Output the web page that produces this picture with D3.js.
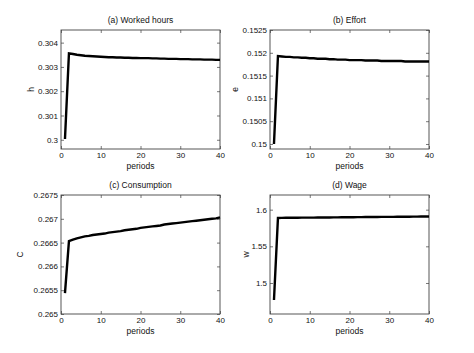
<!DOCTYPE html>
<html>
<head>
<meta charset="utf-8">
<script src="https://cdn.jsdelivr.net/npm/d3@7"></script>
<style>
  body { margin: 0; background: #fff; }
  svg { display: block; }
  text { font-family: "Liberation Sans", Arial, sans-serif; fill: #111; }
</style>
</head>
<body>
<div id="chart"></div>
<script>
// periods 1..40
const periods = d3.range(1, 41);

const hoursValues = [
    0.30003, 0.30356, 0.30353, 0.30350, 0.30348, 0.30346, 0.30345, 0.30344, 0.30343, 0.30342,
    0.30341, 0.30340, 0.30340, 0.30339, 0.30339, 0.30338, 0.30338, 0.30337, 0.30337, 0.30336,
    0.30336, 0.30336, 0.30335, 0.30335, 0.30334, 0.30334, 0.30333, 0.30333, 0.30333, 0.30332,
    0.30332, 0.30332, 0.30331, 0.30331, 0.30331, 0.30330, 0.30330, 0.30330, 0.30329, 0.30329
];
const effortValues = [
    0.15000, 0.15193, 0.15192, 0.15191, 0.15191, 0.15190, 0.15190, 0.15189, 0.15189, 0.15188,
    0.15188, 0.15187, 0.15187, 0.15187, 0.15186, 0.15186, 0.15185, 0.15185, 0.15185, 0.15184,
    0.15184, 0.15184, 0.15184, 0.15183, 0.15183, 0.15183, 0.15183, 0.15182, 0.15182, 0.15182,
    0.15182, 0.15182, 0.15182, 0.15181, 0.15181, 0.15181, 0.15181, 0.15181, 0.15181, 0.15181
];
const consumptionValues = [
    0.26544, 0.26653, 0.26656, 0.26659, 0.26661, 0.26663, 0.26664, 0.26666, 0.26667, 0.26668,
    0.26669, 0.26671, 0.26672, 0.26673, 0.26674, 0.26676, 0.26677, 0.26678, 0.26679, 0.26681,
    0.26682, 0.26683, 0.26684, 0.26685, 0.26686, 0.26688, 0.26689, 0.26690, 0.26691, 0.26692,
    0.26693, 0.26694, 0.26695, 0.26696, 0.26697, 0.26698, 0.26699, 0.26700, 0.26701, 0.26703
];
const wageValues = [
    1.4768, 1.5887, 1.5888, 1.5889, 1.5889, 1.5890, 1.5890, 1.5891, 1.5891, 1.5892,
    1.5892, 1.5893, 1.5893, 1.5894, 1.5894, 1.5895, 1.5895, 1.5896, 1.5896, 1.5897,
    1.5897, 1.5898, 1.5898, 1.5899, 1.5899, 1.5900, 1.5900, 1.5901, 1.5901, 1.5902,
    1.5902, 1.5903, 1.5903, 1.5904, 1.5904, 1.5905, 1.5905, 1.5906, 1.5906, 1.5907
];

const xTicks = [0, 10, 20, 30, 40];
const hoursTicks = [0.3, 0.301, 0.302, 0.303, 0.304];
const effortTicks = [0.15, 0.1505, 0.151, 0.1515, 0.152, 0.1525];
const consumptionTicks = [0.265, 0.2655, 0.266, 0.2665, 0.267, 0.2675];
const wageTicks = [1.5, 1.55, 1.6];

const width = 474;
const height = 353;

const svg = d3.select('#chart').append('svg')
    .attr('width', width)
    .attr('height', height);

function drawPanel(opts) {
    const x = d3.scaleLinear().domain([0, 40]).range([opts.left, opts.right]);
    const y = d3.scaleLinear().domain(opts.yDomain).range([opts.bottom, opts.top]);
    const g = svg.append('g');

    // ticks on all four sides, inward like matlab
    const bottomAxis = g.append('g')
        .attr('transform', `translate(0,${opts.bottom})`)
        .call(d3.axisBottom(x).tickValues(xTicks).tickSize(-3).tickPadding(3).tickFormat(d3.format('d')));
    const topAxis = g.append('g')
        .attr('transform', `translate(0,${opts.top})`)
        .call(d3.axisTop(x).tickValues(xTicks).tickSize(-3).tickFormat(''));
    const leftAxis = g.append('g')
        .attr('transform', `translate(${opts.left},0)`)
        .call(d3.axisLeft(y).tickValues(opts.yTicks).tickSize(-3).tickPadding(3).tickFormat(d => String(+d.toFixed(5))));
    const rightAxis = g.append('g')
        .attr('transform', `translate(${opts.right},0)`)
        .call(d3.axisRight(y).tickValues(opts.yTicks).tickSize(-3).tickFormat(''));

    [bottomAxis, topAxis, leftAxis, rightAxis].forEach(a => {
        a.select('.domain').remove();
        a.selectAll('.tick line').attr('stroke', '#555').attr('stroke-width', 0.8);
        a.selectAll('.tick text')
            .attr('font-family', '"Liberation Sans", Arial, sans-serif')
            .attr('font-size', 8)
            .attr('fill', '#111');
    });

    g.append('rect')
        .attr('x', opts.left)
        .attr('y', opts.top)
        .attr('width', opts.right - opts.left)
        .attr('height', opts.bottom - opts.top)
        .attr('fill', 'none')
        .attr('stroke', '#444')
        .attr('stroke-width', 0.9);

    const line = d3.line()
        .x((d, i) => x(periods[i]))
        .y(d => y(d));

    g.append('path')
        .datum(opts.values)
        .attr('d', line)
        .attr('fill', 'none')
        .attr('stroke', '#000')
        .attr('stroke-width', 2.4)
        .attr('stroke-linejoin', 'miter');

    g.append('text')
        .attr('x', (opts.left + opts.right) / 2)
        .attr('y', opts.top - 7)
        .attr('text-anchor', 'middle')
        .attr('font-size', 8.5)
        .text(opts.title);

    g.append('text')
        .attr('x', (opts.left + opts.right) / 2)
        .attr('y', opts.bottom + 20)
        .attr('text-anchor', 'middle')
        .attr('font-size', 8.5)
        .text('periods');

    g.append('text')
        .attr('transform', `translate(${opts.labelX},${(opts.top + opts.bottom) / 2}) rotate(-90)`)
        .attr('text-anchor', 'middle')
        .attr('font-size', 8.5)
        .text(opts.yLabel);
}

drawPanel({
    left: 61, right: 220, top: 30, bottom: 149,
    yDomain: [0.29962, 0.30452], yTicks: hoursTicks, values: hoursValues,
    title: '(a) Worked hours', yLabel: 'h', labelX: 34
});
drawPanel({
    left: 270, right: 429, top: 30, bottom: 149,
    yDomain: [0.14989, 0.1525], yTicks: effortTicks, values: effortValues,
    title: '(b) Effort', yLabel: 'e', labelX: 238
});
drawPanel({
    left: 61, right: 220, top: 195, bottom: 314,
    yDomain: [0.265, 0.2675], yTicks: consumptionTicks, values: consumptionValues,
    title: '(c) Consumption', yLabel: 'C', labelX: 23
});
drawPanel({
    left: 270, right: 429, top: 195, bottom: 314,
    yDomain: [1.4577, 1.62], yTicks: wageTicks, values: wageValues,
    title: '(d) Wage', yLabel: 'w', labelX: 249
});
</script>
</body>
</html>
